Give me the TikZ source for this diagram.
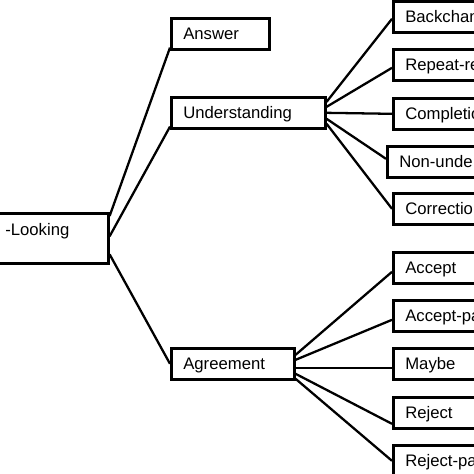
\documentclass[tikz,border=0pt]{standalone}
\usepackage{fontspec}
\setmainfont{Liberation Sans}
\usetikzlibrary{calc}
\tikzstyle{box}=[rectangle, draw=black, line width=1.5pt, anchor=north west, inner xsep=0.24cm, inner ysep=0pt, text height=0.42cm, text depth=0.2cm, align=left, font=\fontsize{9.5}{11}\selectfont]
\tikzstyle{leaf}=[box, text width=1.88cm]
\tikzstyle{link}=[line width=1.3pt]

\begin{document}
\begin{tikzpicture}[x=0.02cm, y=-0.02cm]
	\useasboundingbox (0,0) rectangle (474,474);
	\clip (0,0) rectangle (474,474);

	\node[box, text width=1.82cm, text height=0.44cm, text depth=0.56cm](root) at (-8,212){-Looking};
	\node[box, text width=1.48cm](answer) at (170,17){Answer};
	\node[box, text width=2.6cm](underst) at (170,96){Understanding};
	\node[box, text width=1.98cm](agree) at (170,347){Agreement};

	\draw[link] ($(root.north east)+(0,4)$) -- ($(answer.south west)+(0,-3)$);
	\draw[link] ($(root.east)+(0,-2)$) -- ($(underst.south west)+(0,-3)$);
	\draw[link] ($(root.east)+(0,16)$) -- (agree.west);

	% understanding
	\foreach \name/\txt/\top/\lx/\from/\to in {back/Backchan/0/392/-11/2, rep/Repeat-re/48/392/-6/3, compl/Completio/97/392/0/0, nonund/Non-unde/145/386/6/-3, corr/Correctio/192/392/11/0}
	{
		\node[leaf](\name) at (\lx,\top){\txt};
		\draw[link] ($(underst.east)+(0,\from)$) -- ($(\name.west)+(0,\to)$);
	}

	% agreement
	\foreach \name/\txt/\top/\from/\to in {acc/Accept/251/-9/4, accp/Accept-pa/299/-4/4, maybe/Maybe/347/4/4, rej/Reject/396/10/11, rejp/Reject-pa/444/15/0}
	{
		\node[leaf](\name) at (392,\top){\txt};
		\draw[link] ($(agree.east)+(0,\from)$) -- ($(\name.west)+(0,\to)$);
	}

\end{tikzpicture}
\end{document}
